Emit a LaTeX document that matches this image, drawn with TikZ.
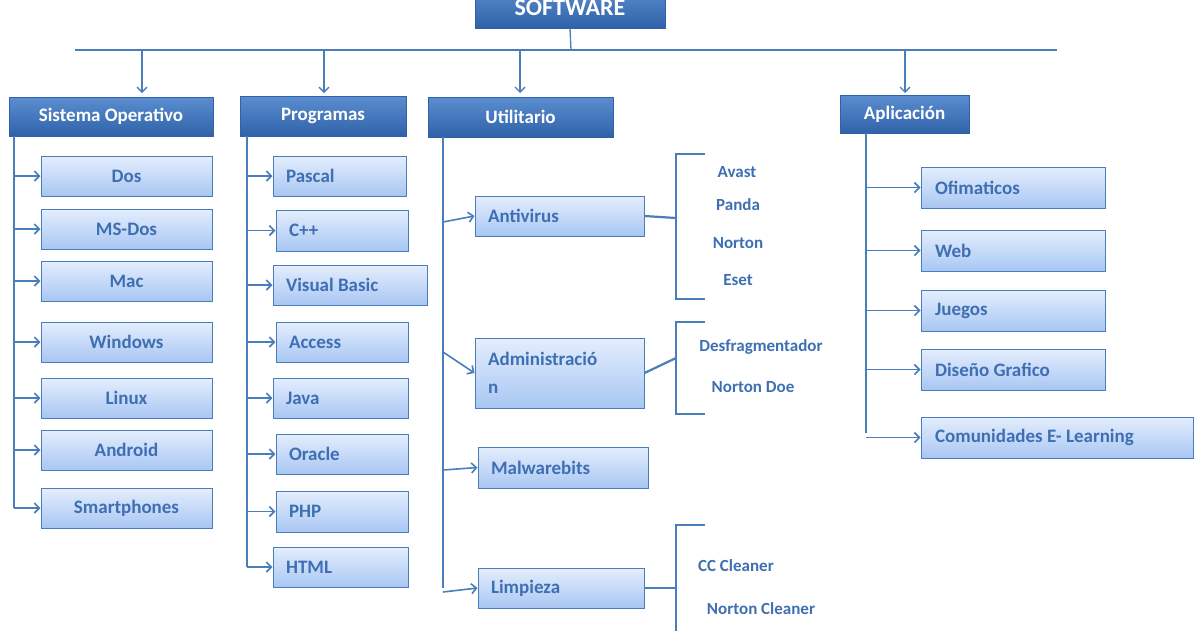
\documentclass[tikz,border=0pt]{standalone}
\usepackage{fontspec}
\setmainfont{Carlito}
\usetikzlibrary{arrows.meta}
\definecolor{ln}{HTML}{4A7EBB}
\definecolor{dk1}{HTML}{5B8DD0}
\definecolor{dk2}{HTML}{2F62A8}
\definecolor{lt1}{HTML}{E4EEFD}
\definecolor{lt2}{HTML}{A8C6F3}
\definecolor{tx}{HTML}{3F6FB3}
\tikzset{
 cat/.style={draw=dk2,line width=0.8pt,top color=dk1,bottom color=dk2,text=white,font=\bfseries\fontsize{19}{21}\selectfont,inner sep=0pt},
 itm/.style={draw=ln,line width=1pt,top color=lt1,bottom color=lt2,text=tx,font=\bfseries\fontsize{19}{21}\selectfont,inner sep=0pt},
 lab/.style={text=tx,font=\bfseries\fontsize{17}{19}\selectfont},
 conn/.style={ln,line width=2.2pt},
 arr/.style={ln,line width=1.6pt,-{Straight Barb[length=5pt,width=10pt]}},
}
\newcommand{\bx}[7]{\node[#1,minimum width=#4-#3,minimum height=#6-#5,#7] (#2) at ({(#3+#4)/2},{(#5+#6)/2}) {};}
\begin{document}
\begin{tikzpicture}[x=1pt,y=-1pt]
\useasboundingbox (0,0) rectangle (1200,630);
% top
\bx{cat}{sw}{475}{665}{-15}{28}{}
\node[white,font=\bfseries\fontsize{24}{26}\selectfont] at (570,8) {SOFTWARE};
\coordinate (bl) at (75,50); \coordinate (br) at (1057,50);
\draw[ln,line width=1.3pt] (bl) -- (br);
\draw[ln,line width=1.3pt] (sw.south) -- (571,50);
% categories
\bx{cat}{so}{9}{213}{97}{136}{}\node[white,font=\bfseries\fontsize{19}{21}\selectfont] at (so) {Sistema Operativo};
\bx{cat}{pr}{240}{406}{96}{136}{}\node[white,font=\bfseries\fontsize{19}{21}\selectfont] at (pr) {Programas};
\bx{cat}{ut}{428}{613}{97}{137}{}\node[white,font=\bfseries\fontsize{19}{21}\selectfont] at (ut) {Utilitario};
\bx{cat}{ap}{840}{969}{95}{133}{}\node[white,font=\bfseries\fontsize{19}{21}\selectfont] at (ap) {Aplicación};
\foreach \x/\n in {142/so,324/pr,520/ut,905/ap}{\draw[arr,line width=1.3pt] (\x,50) -- (\x,93);}
% SO
\draw[conn] (14,136) -- (14,508);
\foreach \n/\t/\a/\b in {d1/Dos/156/196,d2/MS-Dos/209/249,d3/Mac/261/301,d4/Windows/322/362,d5/Linux/378/418,d6/Android/430/470,d7/Smartphones/488/528}{
 \bx{itm}{\n}{41}{212}{\a}{\b}{}\node[text=tx,font=\bfseries\fontsize{19}{21}\selectfont] at (\n) {\t};
 \draw[arr] (14,{(\a+\b)/2}) -- (\n.west);}
% Programas
\draw[conn] (247,136) -- (247,567);
\foreach \n/\t/\l/\r/\a/\b in {p1/Pascal/273/406/156/196,p2/C++/276/408/210/251,p3/Visual Basic/273/427/265/305,p4/Access/276/408/322/362,p5/Java/273/408/378/418,p6/Oracle/276/408/434/474,p7/PHP/276/408/491/532,p8/HTML/273/408/547/587}{
 \bx{itm}{\n}{\l}{\r}{\a}{\b}{}\node[anchor=west,text=tx,font=\bfseries\fontsize{19}{21}\selectfont] at ([xshift=10pt]\n.west) {\t};
 \draw[arr] (247,{(\a+\b)/2}) -- (\n.west);}
% Utilitario
\draw[conn] (443,137) -- (443,588);
\bx{itm}{u1}{475}{644}{196}{236}{}\node[anchor=west,text=tx,font=\bfseries\fontsize{19}{21}\selectfont] at ([xshift=10pt]u1.west) {Antivirus};
\bx{itm}{u2}{475}{644}{338}{408}{}\node[anchor=west,align=left,text=tx,font=\bfseries\fontsize{19}{28}\selectfont] at ([xshift=10pt]u2.west) {Administració\\n};
\bx{itm}{u3}{478}{648}{447}{488}{}\node[anchor=west,text=tx,font=\bfseries\fontsize{19}{21}\selectfont] at ([xshift=10pt]u3.west) {Malwarebits};
\bx{itm}{u4}{478}{644}{568}{608}{}\node[anchor=west,text=tx,font=\bfseries\fontsize{19}{21}\selectfont] at ([xshift=10pt]u4.west) {Limpieza};
\draw[arr] (443,222) -- (u1.west);
\draw[arr] (443,352) -- (u2.west);
\draw[arr] (443,470) -- (u3.west);
\draw[arr] (443,592) -- (u4.west);
% brackets
\draw[conn] (705,154) -- (676,154) -- (676,299) -- (705,299);
\draw[conn] (u1.east) -- (676,218);
\draw[conn] (705,322) -- (676,322) -- (676,414) -- (705,414);
\draw[conn] (u2.east) -- (676,358);
\draw[conn] (705,525) -- (676,525) -- (676,635);
\draw[conn] (u4.east) -- (676,588);
\node[lab] (a1) at (737,172) {Avast};
\node[lab] (a2) at (738,205) {Panda};
\node[lab] (a3) at (738,243) {Norton};
\node[lab] (a4) at (738,280) {Eset};
\node[lab] (b1) at (761,347) {Desfragmentador};
\node[lab] (b2) at (753,387) {Norton Doe};
\node[lab] (c1) at (736,566) {CC Cleaner};
\node[lab] (c2) at (761,609) {Norton Cleaner};
% Aplicacion
\draw[conn] (866,133) -- (866,433);
\foreach \n/\t/\r/\a/\b in {q1/Ofimaticos/1105/167/208,q2/Web/1105/230/271,q3/Juegos/1105/290/331,q4/Diseño Grafico/1105/349/390,q5/Comunidades E- Learning/1193/417/458}{
 \bx{itm}{\n}{921}{\r}{\a}{\b}{}\node[anchor=west,text=tx,font=\bfseries\fontsize{19}{21}\selectfont] at ([xshift=11pt]\n.west) {\t};
 \draw[arr] (866,{(\a+\b)/2}) -- (\n.west);}
\end{tikzpicture}
\end{document}
